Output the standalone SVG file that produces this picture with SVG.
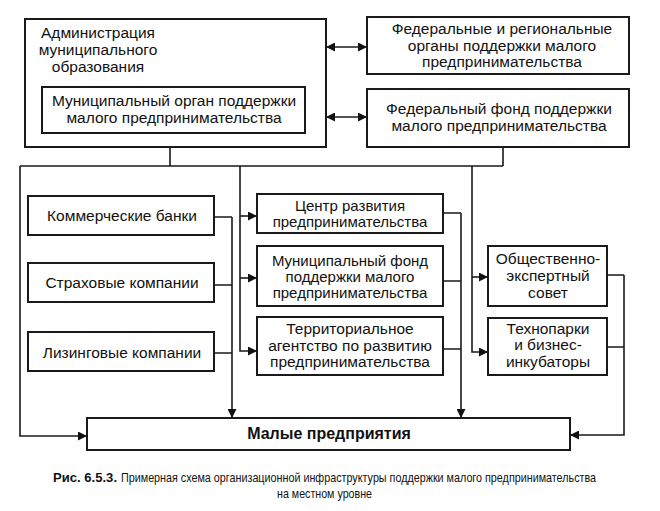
<svg xmlns="http://www.w3.org/2000/svg" width="660" height="511" viewBox="0 0 660 511">
<defs>
<style>
.box{fill:#fff;stroke:#1a1a1a;stroke-width:2}
.ln{fill:none;stroke:#1a1a1a;stroke-width:1.6}
.t{font-family:"Liberation Sans",Arial,sans-serif;font-size:15.5px;fill:#111;text-anchor:middle}
.ts{font-size:15px}
.tb{font-family:"Liberation Sans",Arial,sans-serif;font-size:16px;font-weight:bold;fill:#111;text-anchor:middle}
.cap{font-family:"Liberation Sans",Arial,sans-serif;font-size:12.5px;fill:#111}
</style>
<marker id="ah" viewBox="0 0 10 10" refX="10" refY="5" markerWidth="11" markerHeight="9" orient="auto-start-reverse" markerUnits="userSpaceOnUse">
<path d="M0,0 L10,5 L0,10 z" fill="#111"/>
</marker>
</defs>
<rect width="660" height="511" fill="#fff"/>

<g id="admin">
<rect class="box" x="25" y="19" width="301" height="128"/>
<text class="t" x="98" y="38">Администрация</text>
<text class="t" x="98" y="55">муниципального</text>
<text class="t" x="98" y="72">образования</text>
</g>
<g id="mun-organ">
<rect class="box" x="42" y="87" width="263" height="46"/>
<text class="t" x="174" y="106">Муниципальный орган поддержки</text>
<text class="t" x="174" y="123">малого предпринимательства</text>
</g>
<g id="fed-reg">
<rect class="box" x="367" y="17" width="262" height="57"/>
<text class="t" x="502" y="34">Федеральные и региональные</text>
<text class="t" x="502" y="51">органы поддержки малого</text>
<text class="t" x="502" y="67">предпринимательства</text>
</g>
<g id="fed-fund">
<rect class="box" x="367" y="89" width="262" height="58"/>
<text class="t" x="499" y="114">Федеральный фонд поддержки</text>
<text class="t" x="499" y="131">малого предпринимательства</text>
</g>
<g id="banks">
<rect class="box" x="28" y="196" width="186" height="39"/>
<text class="t" x="122" y="221">Коммерческие банки</text>
</g>
<g id="insurance">
<rect class="box" x="28" y="263" width="186" height="39"/>
<text class="t" x="122" y="288">Страховые компании</text>
</g>
<g id="leasing">
<rect class="box" x="28" y="332" width="186" height="39"/>
<text class="t" x="122" y="358">Лизинговые компании</text>
</g>
<g id="center">
<rect class="box" x="257" y="194" width="186" height="39"/>
<text class="t ts" x="350" y="211">Центр развития</text>
<text class="t ts" x="350" y="227">предпринимательства</text>
</g>
<g id="mun-fund">
<rect class="box" x="257" y="246" width="186" height="60"/>
<text class="t ts" x="350" y="266">Муниципальный фонд</text>
<text class="t ts" x="350" y="282">поддержки малого</text>
<text class="t ts" x="350" y="298">предпринимательства</text>
</g>
<g id="territorial">
<rect class="box" x="257" y="317" width="186" height="58"/>
<text class="t" x="350" y="334">Территориальное</text>
<text class="t" x="350" y="351">агентство по развитию</text>
<text class="t" x="350" y="367">предпринимательства</text>
</g>
<g id="expert">
<rect class="box" x="488" y="246" width="119" height="60"/>
<text class="t" x="548" y="264">Общественно-</text>
<text class="t" x="548" y="281">экспертный</text>
<text class="t" x="548" y="298">совет</text>
</g>
<g id="technoparks">
<rect class="box" x="488" y="318" width="119" height="57"/>
<text class="t" x="548" y="334">Технопарки</text>
<text class="t" x="548" y="350">и бизнес-</text>
<text class="t" x="548" y="367">инкубаторы</text>
</g>
<g id="small">
<rect class="box" x="87" y="418" width="483" height="32"/>
<text class="tb" x="329" y="439">Малые предприятия</text>
</g>

<g id="connectors">
<path class="ln" d="M326,47 H367" marker-start="url(#ah)" marker-end="url(#ah)"/>
<path class="ln" d="M326,117 H367" marker-start="url(#ah)" marker-end="url(#ah)"/>
<path class="ln" d="M170,147 V166 M503,147 V166 M20,166 H503"/>
<path class="ln" d="M20,166 V436 H87" marker-end="url(#ah)"/>
<path class="ln" d="M240,166 V351 H257" marker-end="url(#ah)"/>
<path class="ln" d="M240,216 H257" marker-end="url(#ah)"/>
<path class="ln" d="M240,278 H257" marker-end="url(#ah)"/>
<path class="ln" d="M472,166 V352 H488" marker-end="url(#ah)"/>
<path class="ln" d="M472,277 H488" marker-end="url(#ah)"/>
<path class="ln" d="M214,217 H232 M214,285 H232 M214,353 H232"/>
<path class="ln" d="M232,217 V418" marker-end="url(#ah)"/>
<path class="ln" d="M443,213 H461 M443,281 H461 M443,349 H461"/>
<path class="ln" d="M461,213 V418" marker-end="url(#ah)"/>
<path class="ln" d="M607,275 H624 M607,347 H624"/>
<path class="ln" d="M624,275 V435 H570" marker-end="url(#ah)"/>
</g>

<g id="caption">
<text class="cap" transform="translate(53,482) scale(0.87,1)" font-weight="bold" textLength="73.6" lengthAdjust="spacingAndGlyphs">Рис. 6.5.3.</text>
<text class="cap" transform="translate(121,482) scale(0.87,1)" textLength="546" lengthAdjust="spacingAndGlyphs">Примерная схема организационной инфраструктуры поддержки малого предпринимательства</text>
<text class="cap" transform="translate(277,498) scale(0.87,1)" textLength="109.2" lengthAdjust="spacingAndGlyphs">на местном уровне</text>
</g>
</svg>
